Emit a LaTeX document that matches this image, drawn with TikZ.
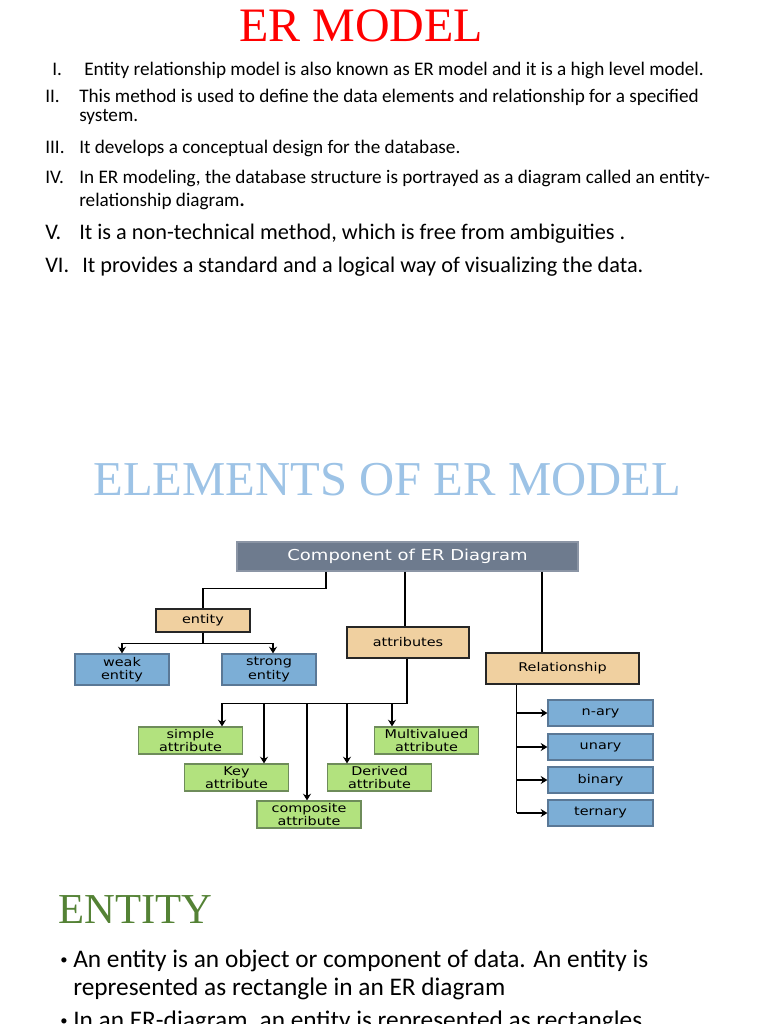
\documentclass[tikz,border=0pt]{standalone}
\usepackage{fontspec}
\setmainfont{Liberation Serif}
\newfontfamily\bodyfont{Carlito}
\newfontfamily\diafont[FakeStretch=1.2]{DejaVu Sans}
\usetikzlibrary{arrows.meta,calc}
\definecolor{slate}{RGB}{110,123,142}
\definecolor{tanfill}{RGB}{240,208,160}
\definecolor{bluefill}{RGB}{124,174,214}
\definecolor{blueline}{RGB}{90,120,150}
\definecolor{greenfill}{RGB}{178,226,126}
\definecolor{greenline}{RGB}{110,140,90}
\definecolor{titlered}{RGB}{255,0,0}
\definecolor{titleblue}{RGB}{157,195,230}
\definecolor{titlegreen}{RGB}{84,130,53}

\begin{document}
\begin{tikzpicture}[x=0.75pt,y=-0.75pt,
  box/.style={draw, line width=0.9pt, inner sep=0pt, align=center,
    font=\diafont\fontsize{9}{9.8}\selectfont},
  tanbox/.style={box, fill=tanfill, draw=black!85},
  bluebox/.style={box, fill=bluefill, draw=blueline},
  greenbox/.style={box, fill=greenfill, draw=greenline,
    minimum width=78pt, minimum height=20.25pt},
  kidbox/.style={bluebox, minimum width=78.75pt, minimum height=19.5pt},
  link/.style={line width=1.2pt},
  arr/.style={link, -{Stealth[length=5pt,width=6pt]}},
  item/.style={anchor=base west, inner sep=0pt,
    font=\bodyfont\fontsize{14.4}{17}\selectfont},
  bigitem/.style={item, font=\bodyfont\fontsize{16.7}{20}\selectfont},
  bullettext/.style={anchor=base west, inner sep=0pt,
    font=\bodyfont\fontsize{19}{23}\selectfont},
  bulletdot/.style={anchor=base west, inner sep=0pt,
    font=\bodyfont\fontsize{11}{13}\selectfont}
]
\useasboundingbox (0,0) rectangle (768,1024);
\clip (0,0) rectangle (768,1024);

% slide titles
\node[anchor=base, inner sep=0pt, text=titlered, font=\fontsize{36}{40}\selectfont]
  (title) at (361,42) {ER MODEL};
\node[anchor=base west, inner sep=0pt, text=titleblue, font=\fontsize{36.5}{42}\selectfont]
  (elements) at (93,495) {ELEMENTS OF ER MODEL};
\node[anchor=base west, inner sep=0pt, text=titlegreen, font=\fontsize{32}{36}\selectfont]
  (entity) at (58,923) {ENTITY};

% numbered list
\node[item] (n1) at (52,75) {I.};
\node[item] (t1) at (84,75) {Entity relationship model is also known as ER model and it is a high level model.};
\node[item] (n2) at (45,103) {II.};
\node[item] (t2) at (79,103) {This method is used to define the data elements and relationship for a specified};
\node[item] (t2b) at (79,122) {system.};
\node[item] (n3) at (45,153) {III.};
\node[item] (t3) at (79,153) {It develops a conceptual design for the database.};
\node[item] (n4) at (45,183) {IV.};
\node[item] (t4) at (79,183) {In ER modeling, the database structure is portrayed as a diagram called an entity-};
\node[item] (t4b) at (79,206) {relationship diagram\textbf{.}};
\node[bigitem] (n5) at (45,239) {V.};
\node[bigitem] (t5) at (79,239) {It is a non-technical method, which is free from ambiguities .};
\node[bigitem] (n6) at (45,272) {VI.};
\node[bigitem] (t6) at (82,272) {It provides a standard and a logical way of visualizing the data.};

% diagram boxes
\node[box, fill=slate, draw=slate!80, text=white, minimum width=255.75pt, minimum height=21.75pt,
  font=\diafont\fontsize{11.25}{12}\selectfont] (comp) at (407.5,556.5) {Component of ER Diagram};
\node[tanbox, minimum width=70.5pt, minimum height=17.25pt] (ent) at (203,620.5) {entity};
\node[bluebox, minimum width=70.5pt, minimum height=23.25pt] (weak) at (122,669.5) {weak\\entity};
\node[bluebox, minimum width=70.5pt, minimum height=23.25pt] (strong) at (269,669.5) {strong\\entity};
\node[tanbox, minimum width=91.5pt, minimum height=23.25pt] (attr) at (408,642.5) {attributes};
\node[tanbox, minimum width=114.75pt, minimum height=23.25pt] (rel) at (562.5,668.5) {Relationship};

\node[greenbox] (simple) at (190.5,740.5) {simple\\attribute};
\node[greenbox] (key) at (236.5,777.5) {Key\\attribute};
\node[greenbox] (compo) at (309,814.5) {composite\\attribute};
\node[greenbox] (der) at (379.5,777.5) {Derived\\attribute};
\node[greenbox] (multi) at (426.5,740.5) {Multivalued\\attribute};

\node[kidbox] (nary) at (600.5,713) {n-ary};
\node[kidbox] (unary) at (600.5,747) {unary};
\node[kidbox] (binary) at (600.5,780) {binary};
\node[kidbox] (ternary) at (600.5,813) {ternary};

% connectors
\draw[link] ($(comp.south)+(-81.5,0)$) -- ++(0,17) -| (ent.north);
\draw[link] ($(comp.south)+(-2.5,0)$) -- ($(attr.north)+(-3,0)$);
\draw[link] ($(comp.south)+(134.5,0)$) -- ($(rel.north)+(-20.5,0)$);

\draw[arr] (ent.south) -- ++(0,11) -| (weak.north);
\draw[arr] (ent.south) -- ++(0,11) -| ($(strong.north)+(4,0)$);

\draw[link] ($(attr.south)+(-1,0)$) -- ++(0,45) coordinate (abar);
\draw[arr] (abar) -| ($(simple.north)+(31.5,0)$);
\draw[arr] (abar) -| ($(key.north)+(27.5,0)$);
\draw[arr] (abar) -| ($(compo.north)+(-2,0)$);
\draw[arr] (abar) -| ($(der.north)+(-32.5,0)$);
\draw[arr] (abar) -| ($(multi.north)+(-34.5,0)$);

\coordinate (rbar) at ($(rel.south)+(-46,0)$);
\draw[link] (rbar) -- (rbar |- ternary.west);
\foreach \k in {nary,unary,binary,ternary}
  \draw[arr] (rbar |- \k.west) -- (\k.west);

% entity bullets
\node[bulletdot] (b1) at (60,964) {•};
\node[bullettext] (e1) at (73,967) {An entity is an object or component of data. An entity is};
\node[bullettext] (e1b) at (73,995) {represented as rectangle in an ER diagram};
\node[bulletdot] (b2) at (60,1025) {•};
\node[bullettext] (e2) at (73,1028) {In an ER-diagram, an entity is represented as rectangles};
\end{tikzpicture}
\end{document}
